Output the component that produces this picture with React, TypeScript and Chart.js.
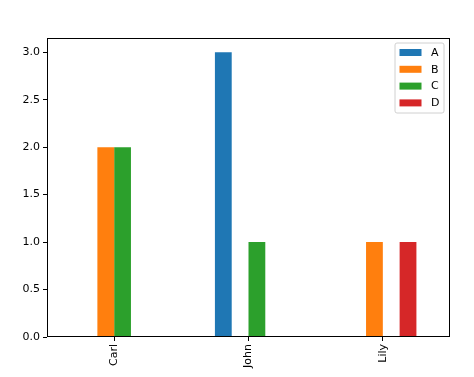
import React, { useEffect, useRef } from "react";
import { Chart, registerables } from "chart.js";

Chart.register(...registerables);

const categories = ["Carl", "John", "Lily"];
const seriesNames = ["A", "B", "C", "D"];
const seriesA = [0, 3, 0];
const seriesB = [2, 0, 1];
const seriesC = [2, 1, 0];
const seriesD = [0, 0, 1];
const colors = ["#1f77b4", "#ff7f0e", "#2ca02c", "#d62728"];
const yTicks = [0, 0.5, 1, 1.5, 2, 2.5, 3];

const FONT = "DejaVu Sans";
const FS = 11;

const framePlugin = {
  id: "frameAndLegend",
  afterDraw(chart: any) {
    const { ctx, chartArea } = chart;
    ctx.save();
    ctx.strokeStyle = "#000";
    ctx.lineWidth = 1;
    ctx.strokeRect(
      Math.round(chartArea.left) + 0.5,
      Math.round(chartArea.top) + 0.5,
      Math.round(chartArea.right - chartArea.left) - 1,
      Math.round(chartArea.bottom - chartArea.top) - 1
    );
    // legend
    const w = 49;
    const h = 70;
    const x = chartArea.right - 6 - w;
    const y = chartArea.top + 5;
    ctx.fillStyle = "rgba(255,255,255,0.8)";
    ctx.strokeStyle = "#d0d0d0";
    ctx.beginPath();
    const r = 2;
    ctx.moveTo(x + r, y);
    ctx.lineTo(x + w - r, y);
    ctx.arcTo(x + w, y, x + w, y + r, r);
    ctx.lineTo(x + w, y + h - r);
    ctx.arcTo(x + w, y + h, x + w - r, y + h, r);
    ctx.lineTo(x + r, y + h);
    ctx.arcTo(x, y + h, x, y + h - r, r);
    ctx.lineTo(x, y + r);
    ctx.arcTo(x, y, x + r, y, r);
    ctx.closePath();
    ctx.fill();
    ctx.stroke();
    ctx.font = `${FS}px "${FONT}"`;
    ctx.textBaseline = "middle";
    ctx.textAlign = "left";
    chart.data.datasets.forEach((ds: any, i: number) => {
      const cy = y + 9.5 + i * 16.8;
      ctx.fillStyle = ds.backgroundColor;
      ctx.fillRect(x + 4.5, cy - 3.5, 22, 7);
      ctx.fillStyle = "#000";
      ctx.fillText(ds.label, x + 36, cy + 0.5);
    });
    ctx.restore();
  },
};

export default function App() {
  const ref = useRef<HTMLCanvasElement | null>(null);
  useEffect(() => {
    document.body.style.margin = "0";
    const values = [seriesA, seriesB, seriesC, seriesD];
    const chart = new Chart(ref.current as HTMLCanvasElement, {
      type: "bar",
      data: {
        labels: categories,
        datasets: seriesNames.map((name, i) => ({
          label: name,
          data: values[i],
          backgroundColor: colors[i],
          borderWidth: 0,
          categoryPercentage: 0.5,
          barPercentage: 1,
        })),
      },
      options: {
        animation: false,
        responsive: false,
        devicePixelRatio: 1,
        layout: { padding: { left: 0, right: 24, top: 38, bottom: 0 } },
        plugins: { legend: { display: false }, tooltip: { enabled: false } },
        scales: {
          x: {
            offset: true,
            grid: {
              offset: false,
              drawOnChartArea: false,
              drawTicks: true,
              tickLength: 4,
              color: "#000",
            },
            border: { display: false },
            ticks: {
              color: "#000",
              font: { family: FONT, size: FS },
              maxRotation: 90,
              minRotation: 90,
              padding: 3,
            },
            afterFit(scale: any) {
              scale.height = 40;
            },
          },
          y: {
            min: 0,
            max: 3.15,
            grid: {
              drawOnChartArea: false,
              drawTicks: true,
              tickLength: 4,
              color: "#000",
            },
            border: { display: false },
            afterBuildTicks(scale: any) {
              scale.ticks = yTicks.map((v) => ({ value: v }));
            },
            ticks: {
              color: "#000",
              font: { family: FONT, size: FS },
              padding: 3,
              callback: (v: any) => Number(v).toFixed(1),
            },
            afterFit(scale: any) {
              scale.width = 47;
            },
          },
        },
      } as any,
      plugins: [framePlugin],
    });
    return () => chart.destroy();
  }, []);
  return (
    <div style={{ width: 474, height: 377, position: "relative" }}>
      <canvas ref={ref} width={474} height={377} style={{ width: 474, height: 377 }} />
    </div>
  );
}
